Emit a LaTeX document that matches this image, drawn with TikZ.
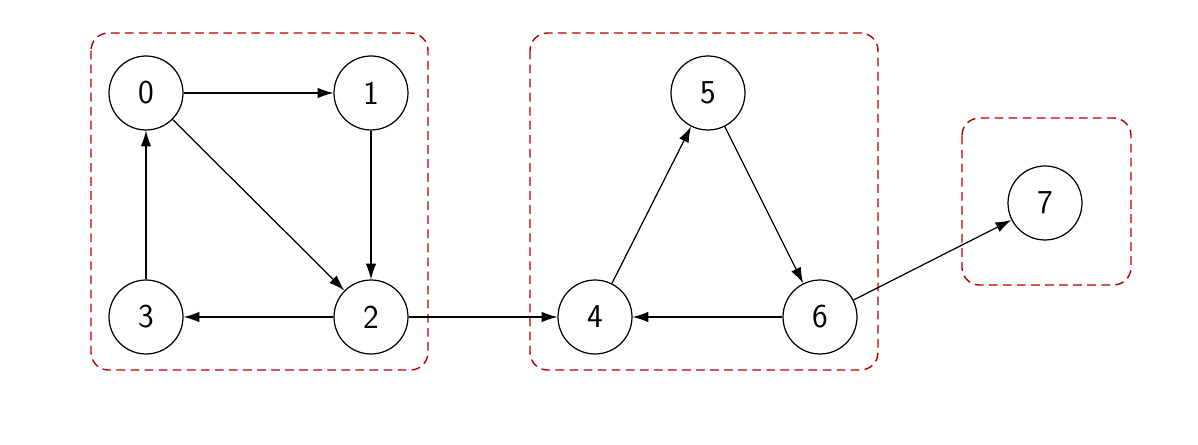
\documentclass[tikz,border=0pt]{standalone}
\usetikzlibrary{arrows.meta}
\begin{document}
\begin{tikzpicture}[x=0.02cm,y=-0.02cm,
  vtx/.style={circle,draw,line width=0.7pt,minimum size=1.48cm,inner sep=0pt,font=\sffamily\fontsize{19}{21}\selectfont},
  edge/.style={-{Latex[length=9pt,width=6pt]},line width=0.7pt},
  grp/.style={draw=red!70!black,dashed,line width=0.8pt,rounded corners=10pt,dash pattern=on 5pt off 3pt}]
\useasboundingbox (0,0) rectangle (1198,445);
\draw[grp] (91,33) rectangle (428,370);
\draw[grp] (530,33) rectangle (878,370);
\draw[grp] (962,118) rectangle (1131,285);
\node[vtx] (n0) at (146,93) {0};
\node[vtx] (n1) at (371,93) {1};
\node[vtx] (n2) at (371,317) {2};
\node[vtx] (n3) at (146,317) {3};
\node[vtx] (n4) at (595,317) {4};
\node[vtx] (n5) at (708,93) {5};
\node[vtx] (n6) at (820,317) {6};
\node[vtx] (n7) at (1045,203) {7};
\draw[edge] (n0) -- (n1);
\draw[edge] (n1) -- (n2);
\draw[edge] (n0) -- (n2);
\draw[edge] (n2) -- (n3);
\draw[edge] (n3) -- (n0);
\draw[edge] (n2) -- (n4);
\draw[edge] (n4) -- (n5);
\draw[edge] (n5) -- (n6);
\draw[edge] (n6) -- (n4);
\draw[edge] (n6) -- (n7);
\end{tikzpicture}
\end{document}
